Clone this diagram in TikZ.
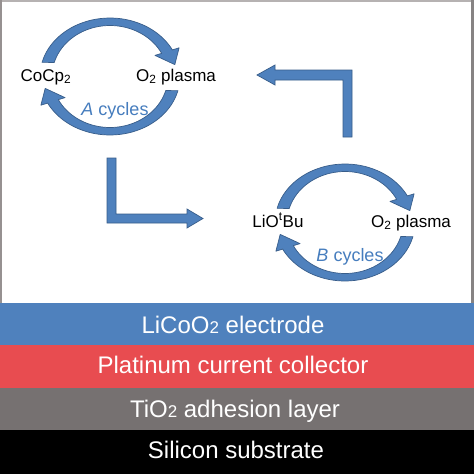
\documentclass[tikz,border=0pt]{standalone}
\usepackage{fontspec}
\setmainfont{Liberation Sans}
\definecolor{arrowblue}{RGB}{79,129,189}
\definecolor{arrowedge}{RGB}{56,93,138}
\definecolor{layerblue}{RGB}{79,129,189}
\definecolor{layerred}{RGB}{232,76,80}
\definecolor{layergray}{RGB}{118,113,113}
\definecolor{cyclecol}{RGB}{70,125,190}
\definecolor{bordergray}{RGB}{150,145,145}
\newcommand{\cyclearrowshape}{%
  \filldraw[arrowstyle]
    plot[domain=194:333, samples=40] ({70*cos(\x)},{58.5*sin(\x)})
    -- (69.1,-28.7) -- (64.8,-11.9) -- (45.0,-21.1)
    -- plot[domain=333:196, samples=40] ({58*cos(\x)},{51*sin(\x)})
    -- cycle;}
\begin{document}
\begin{tikzpicture}[x=1pt,y=-1pt,
  arrowstyle/.style={fill=arrowblue,draw=arrowedge,line width=0.7pt,line join=round},
  lbl/.style={font=\fontsize{17}{20}\selectfont,text=black,inner sep=0pt,anchor=base},
  cyc/.style={font=\fontsize{18}{21}\selectfont,text=cyclecol,inner sep=0pt,anchor=base},
  layertxt/.style={font=\fontsize{24}{28}\selectfont,text=white,inner sep=0pt,anchor=base}]
\useasboundingbox (0,0) rectangle (474,474);
\fill[white] (0,0) rectangle (474,303);
% borders
\fill[bordergray!70] (0,0) rectangle (474,2);
\fill[bordergray] (0,0) rectangle (2,303);
\fill[bordergray!90!black] (471,0) rectangle (474,303);
% layers
\fill[layerblue] (0,303) rectangle (474,345);
\fill[layerred] (0,345) rectangle (474,388);
\fill[layergray] (0,388) rectangle (474,430);
\fill[black] (0,430) rectangle (474,474);
\node[layertxt] (licoo) at (233,333) {LiCoO{\fontsize{17}{17}\selectfont 2} electrode};
\node[layertxt] (pt) at (233,373) {Platinum current collector};
\node[layertxt] (tio) at (235,417) {TiO{\fontsize{17}{17}\selectfont 2} adhesion layer};
\node[layertxt] (si) at (236,458.5) {Silicon substrate};
% cycle A
\begin{scope}[shift={(110,76.5)}]
  \cyclearrowshape
  \begin{scope}[rotate=180]\cyclearrowshape\end{scope}
\end{scope}
\node[lbl] (cocp) at (46,81) {CoCp\textsubscript{2}};
\node[lbl] (o2a) at (176,81) {O\textsubscript{2} plasma};
\node[cyc] (acyc) at (115,115.5) {\textit{A} cycles};
% cycle B
\begin{scope}[shift={(345,222.5)}]
  \cyclearrowshape
  \begin{scope}[rotate=180]\cyclearrowshape\end{scope}
\end{scope}
\node[lbl] (liotbu) at (278,227) {LiO\textsuperscript{t}Bu};
\node[lbl] (o2b) at (411,227) {O\textsubscript{2} plasma};
\node[cyc] (bcyc) at (350,261.5) {\textit{B} cycles};
% L-shaped arrows
\filldraw[arrowstyle,line join=miter] (107,158) -- (116,158) -- (116,214) -- (187,214) -- (187,209)
  -- (203,218.5) -- (187,228) -- (187,223) -- (107,223) -- cycle;
\filldraw[arrowstyle,line join=miter] (352,137) -- (343,137) -- (343,80) -- (275,80) -- (275,85)
  -- (257,75) -- (275,65) -- (275,70) -- (352,70) -- cycle;
\end{tikzpicture}
\end{document}
